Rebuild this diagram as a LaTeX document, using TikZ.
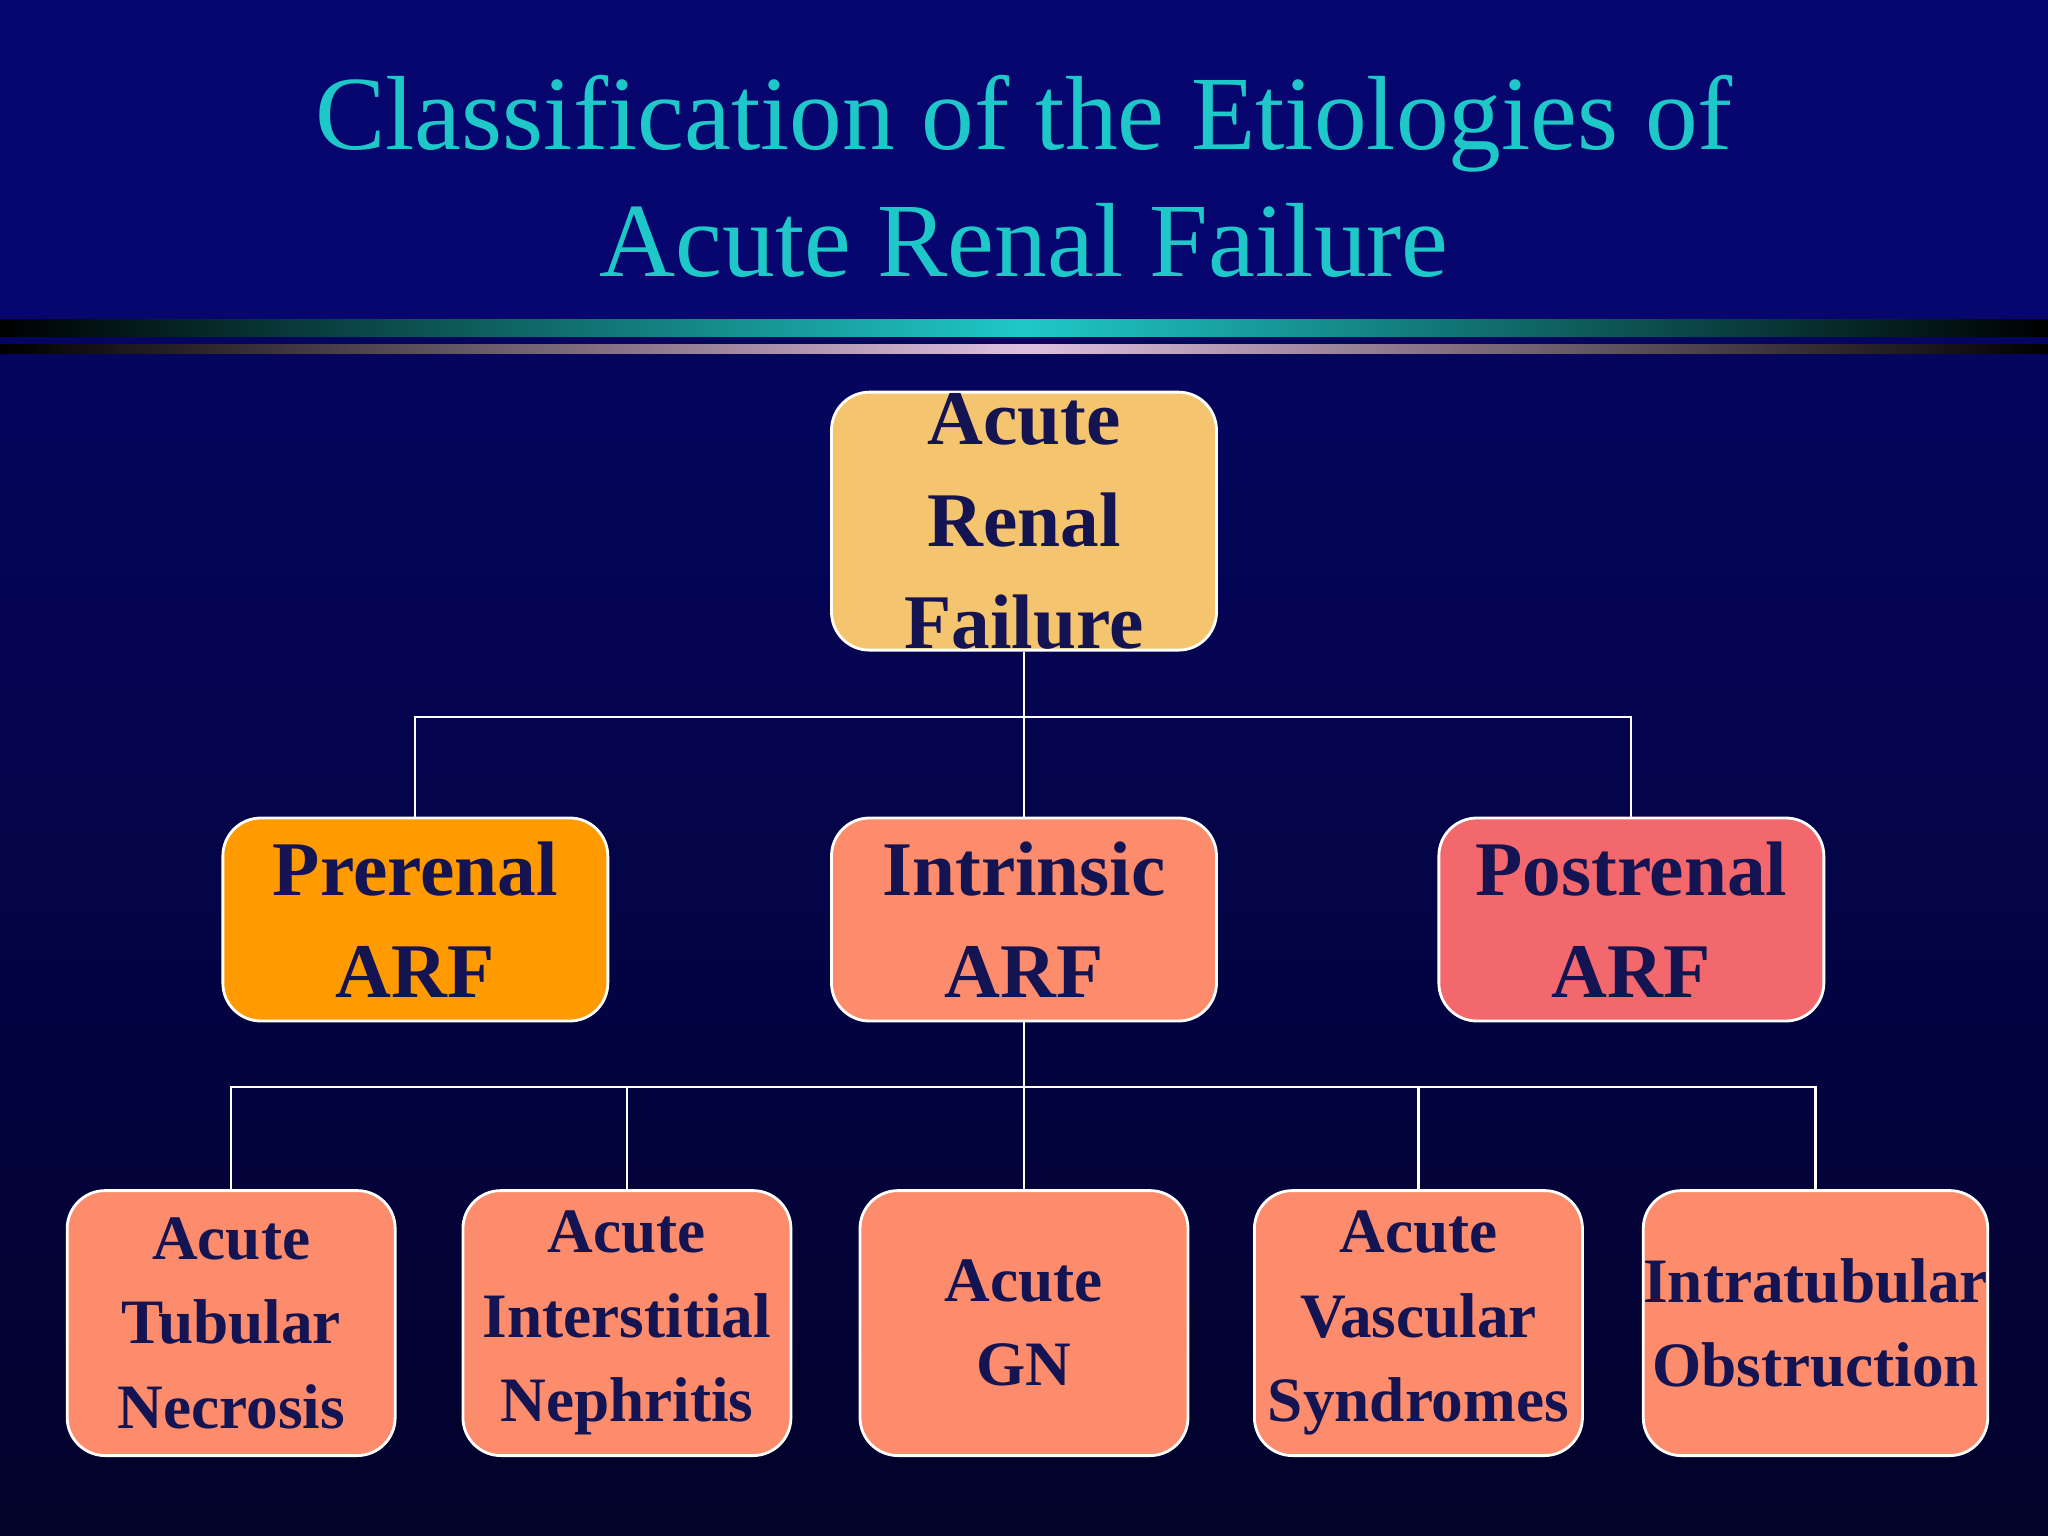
\documentclass[tikz,border=0pt]{standalone}
\usepackage{fontspec}
\setmainfont{Liberation Serif}
\definecolor{bgTop}{HTML}{06066E}
\definecolor{bgBot}{HTML}{02022A}
\definecolor{mTitle}{HTML}{1FC8C8}
\definecolor{mText}{HTML}{141452}
\definecolor{mRoot}{HTML}{F4C46E}
\definecolor{mPre}{HTML}{FF9A00}
\definecolor{mIntr}{HTML}{FC8C6C}
\definecolor{mPost}{HTML}{F2686C}
\tikzset{
  box/.style={rectangle, rounded corners=0.38cm, draw=white, line width=0.8pt,
    text=mText, font=\bfseries, align=center, inner sep=0pt},
  rootbox/.style={box, minimum width=3.85cm, minimum height=2.58cm, fill=mRoot, font=\fontsize{22}{29}\bfseries},
  midbox/.style={box, minimum width=3.85cm, minimum height=2.03cm, font=\fontsize{22}{29}\bfseries},
  leafbox/.style={box, minimum width=3.28cm, minimum height=2.65cm, fill=mIntr, font=\fontsize{18}{24}\bfseries},
  line/.style={white, line width=0.6pt}
}
\begin{document}
\begin{tikzpicture}[x=0.013061cm, y=-0.013061cm]
  \useasboundingbox (0,0) rectangle (1568,1176);
  \shade[top color=bgTop, bottom color=bgBot] (0,0) rectangle (1568,1176);
  \fill[bgTop] (0,0) rectangle (1568,245);
  % title bars
  \shade[left color=black, right color=black, middle color=mTitle] (0,245) rectangle (1568,258);
  \shade[left color=black, right color=black, middle color=violet!25] (0,264) rectangle (1568,271);
  \node (title) [text=mTitle, align=center, font=\fontsize{30}{36}\selectfont] at (784,135)
    {Classification of the Etiologies of\\Acute Renal Failure};

  \node (arf) [rootbox] at (784,399) {Acute\\Renal\\Failure};
  \node (pre) [midbox, fill=mPre] at (318,704) {Prerenal\\ARF};
  \node (intr) [midbox, fill=mIntr] at (784,704) {Intrinsic\\ARF};
  \node (post) [midbox, fill=mPost] at (1249,704) {Postrenal\\ARF};

  \node (atn) [leafbox] at (177,1013) {Acute\\Tubular\\Necrosis};
  \node (ain) [leafbox] at (480,1013) {Acute\\Interstitial\\Nephritis};
  \node (agn) [leafbox] at (784,1013) {Acute\\GN};
  \node (avs) [leafbox] at (1086,1013) {Acute\\Vascular\\Syndromes};
  \node (ito) [leafbox] at (1390,1013) {Intratubular\\Obstruction};

  \coordinate (split1) at (784,549);
  \coordinate (split2) at (784,832);
  \draw [line] (arf) -- (split1);
  \foreach \n in {pre, intr, post}
    \draw [line] (split1) -| (\n);
  \draw [line] (intr) -- (split2);
  \foreach \n in {atn, ain, agn, avs, ito}
    \draw [line] (split2) -| (\n);
\end{tikzpicture}
\end{document}
